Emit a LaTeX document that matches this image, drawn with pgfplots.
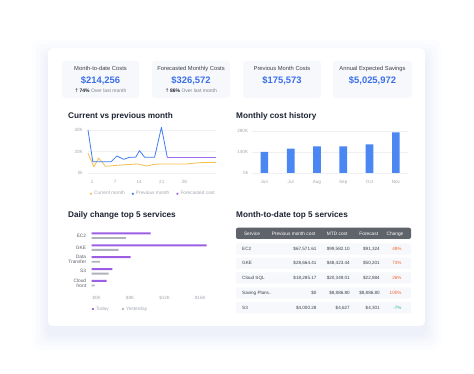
\documentclass[border=0pt]{standalone}
\usepackage{pgfplots}
\pgfplotsset{compat=1.18}
\usepackage{fontspec}
\setmainfont{Liberation Sans}
\newfontfamily\dejavu{DejaVu Sans}
\definecolor{titlecol}{HTML}{1B2232}
\definecolor{kpiblue}{HTML}{3A6FE8}
\definecolor{kpitext}{HTML}{3A3F4A}
\definecolor{subgray}{HTML}{7A808A}
\definecolor{tickgray}{HTML}{A3A8B0}
\definecolor{labgray}{HTML}{5A606B}
\definecolor{gridcol}{HTML}{EEF0F4}
\definecolor{curorange}{HTML}{F6BE4F}
\definecolor{prevblue}{HTML}{3E7BF2}
\definecolor{fcpurple}{HTML}{A46CF5}
\definecolor{barblue}{HTML}{4A87F2}
\definecolor{todaypurple}{HTML}{9C5FE3}
\definecolor{yestgray}{HTML}{AEB3BC}
\definecolor{headgray}{HTML}{5F636A}
\definecolor{rowfill}{HTML}{F6F8FB}
\definecolor{chgorange}{HTML}{F0652F}
\definecolor{chgteal}{HTML}{2FB39B}
\definecolor{cardfill}{HTML}{F7F8FB}
\definecolor{shadowcol}{HTML}{C9D2F0}
\definecolor{tabtext}{HTML}{3A404C}
\newcommand{\fs}[1]{\fontsize{#1}{#1}\selectfont}
\newcommand{\trow}[7]{%
  \node[anchor=base west, font=\fs{4.6}, text=tabtext, inner sep=0pt] at (242,#1-1.65) {#2};
  \node[anchor=base east, font=\fs{4.6}, text=tabtext, inner sep=0pt] at (316.7,#1-1.65) {#3};
  \node[anchor=base east, font=\fs{4.6}, text=tabtext, inner sep=0pt] at (350,#1-1.65) {#4};
  \node[anchor=base east, font=\fs{4.6}, text=tabtext, inner sep=0pt] at (380,#1-1.65) {#5};
  \node[anchor=base east, font=\fs{4.6}, text=#7, inner sep=0pt] at (401.7,#1-1.65) {#6};
}
\pgfplotsset{
  dash/.style={scale only axis, axis line style={draw=none}, tick style={draw=none},
    major tick length=0pt, ymajorgrids, grid style={gridcol, line width=0.5pt},
    scaled ticks=false,
    tick label style={font=\fs{4.6}, text=tickgray, inner sep=0pt},
    xticklabel style={anchor=center, yshift=-9.3pt},
    yticklabel style={anchor=east},
    clip=false,
    legend image code/.code={\fill[##1] (0pt,0pt) circle (0.9pt);},
    legend style={draw=none, fill=none, font=\fs{4.8}, text=tickgray, inner sep=0pt,
      legend columns=-1, /tikz/every even column/.append style={column sep=5pt}},
    /pgf/number format/assume math mode=true,
  }
}
\begin{document}
\begin{tikzpicture}[x=1pt,y=1pt]
\fill[white] (0,0) rectangle (474,374);
% shadow
\foreach \e/\o in {16/0.04,12/0.05,8/0.06,5/0.07,2/0.08}{
  \fill[shadowcol, opacity=\o, rounded corners=8pt] (48-\e,326+\e-8) rectangle (425+\e,48-\e-8);
}
\fill[white, rounded corners=5pt] (48,326) rectangle (425,48);
% KPI cards
\foreach \a/\b in {62/139,152/230,243/321,333/412}{
  \fill[cardfill, rounded corners=3pt] (\a,313) rectangle (\b,276);
}
\node[anchor=base, font=\fs{5.8}, text=kpitext, inner sep=0pt] at (100.5,303.5) {Month-to-date Costs};
\node[anchor=base, font=\fs{5.8}, text=kpitext, inner sep=0pt] at (191,303.5) {Forecasted Monthly Costs};
\node[anchor=base, font=\fs{5.8}, text=kpitext, inner sep=0pt] at (282,303.5) {Previous Month Costs};
\node[anchor=base, font=\fs{5.8}, text=kpitext, inner sep=0pt] at (372.5,303.5) {Annual Expected Savings};
\node[anchor=base, font=\bfseries\fs{9.4}, text=kpiblue, inner sep=0pt] at (100.5,290.4) {\$214,256};
\node[anchor=base, font=\bfseries\fs{9.4}, text=kpiblue, inner sep=0pt] at (191,290.4) {\$326,572};
\node[anchor=base, font=\bfseries\fs{9.4}, text=kpiblue, inner sep=0pt] at (282,290.4) {\$175,573};
\node[anchor=base, font=\bfseries\fs{9.4}, text=kpiblue, inner sep=0pt] at (372.5,290.4) {\$5,025,972};
\node[anchor=base, font=\fs{5}, text=subgray, inner sep=0pt] at (100.5,281) {{\dejavu\color{titlecol}↑}\,{\bfseries\color{titlecol}74\%} Over last month};
\node[anchor=base, font=\fs{5}, text=subgray, inner sep=0pt] at (191,281) {{\dejavu\color{titlecol}↑}\,{\bfseries\color{titlecol}86\%} Over last month};
% titles
\node[anchor=base west, font=\bfseries\fs{8.2}, text=titlecol, inner sep=0pt] at (68,255.7) {Current vs previous month};
\node[anchor=base west, font=\bfseries\fs{8.2}, text=titlecol, inner sep=0pt] at (236,255.5) {Monthly cost history};
\node[anchor=base west, font=\bfseries\fs{8.2}, text=titlecol, inner sep=0pt] at (68,156.7) {Daily change top 5 services};
\node[anchor=base west, font=\bfseries\fs{8.2}, text=titlecol, inner sep=0pt] at (236,156.5) {Month-to-date top 5 services};

% Chart 1
\begin{axis}[dash, at={(88pt,201pt)}, anchor=south west, width=128pt, height=47.3pt,
  xmin=0, xmax=37.3, ymin=0, ymax=44000,
  ytick={0,20000,40000}, yticklabels={0k,20K,40K},
  yticklabel style={xshift=-5pt},
  xtick={1.2,7.9,14.9,21.5,28.1}, xticklabels={1,7,14,21,28},
  legend style={at={(0.51,-0.44)}, anchor=center}]
\addplot[color=curorange, line width=0.8pt, line join=round, forget plot] coordinates {
 (0,18500) (1.7,5900) (3.1,13900) (5.1,6200) (7.2,6800) (11.1,7750) (14.5,8400)
 (17,6500) (18.9,7750) (20.9,8400) (28.7,8400) (32.6,9600) (37.3,9900)};
\addplot[color=prevblue, line width=0.8pt, line join=round, forget plot] coordinates {
 (0,40000) (1.4,10500) (6.75,10500) (8.4,15800) (10.4,12700) (12.1,14600) (13.9,14600)
 (15,20800) (16.5,14600) (19.4,14600) (21.4,42500) (23.1,14600)};
\addplot[color=fcpurple, line width=0.9pt, forget plot] coordinates {(23.1,14600) (37.3,14600)};
\addlegendimage{color=curorange}\addlegendentry{Current month}
\addlegendimage{color=prevblue}\addlegendentry{Previous month}
\addlegendimage{color=fcpurple}\addlegendentry{Forecasted cost}
\end{axis}

% Chart 2
\begin{axis}[dash, at={(252pt,201pt)}, anchor=south west, width=155.7pt, height=42pt,
  xmin=-0.47, xmax=5.45, ymin=0, ymax=280000,
  ytick={0,140000,280000}, yticklabels={0k,140K,280K},
  yticklabel style={xshift=-3.7pt},
  xtick={0,1,2,3,4,5}, xticklabels={Jun,Jul,Aug,Sep,Oct,Nov}]
\addplot[ybar, bar width=7.7pt, fill=barblue, draw=none] coordinates {
 (0,140000) (1,162000) (2,177000) (3,177000) (4,190000) (5,271000)};
\end{axis}

% Chart 3
\begin{axis}[dash, ymajorgrids=false, at={(91.7pt,84.9pt)}, anchor=south west, width=118.5pt, height=59.3pt,
  xmin=0, xmax=17, ymin=-0.5, ymax=4.5,
  ytick={0,1,2,3,4}, yticklabels={{Cloud\\front},S3,{Data\\Transfer},GKE,EC2},
  yticklabel style={align=right, font=\fontsize{4.8}{5.6}\selectfont, text=labgray, xshift=-5.4pt},
  xtick={0.72,5.5,10.47,15.58}, xticklabels={\$0K,\$8K,\$12K,\$16K},
  legend style={at={(0.243,-0.336)}, anchor=center, /tikz/every even column/.append style={column sep=11pt}}]
\addplot[xbar, bar width=2pt, bar shift=0pt, fill=todaypurple, draw=none, forget plot] coordinates {
 (8.46,4.194) (16.5,3.194) (5.6,2.194) (2.96,1.194) (2.15,0.194)};
\addplot[xbar, bar width=1.8pt, bar shift=0pt, fill=yestgray, draw=none, forget plot] coordinates {
 (4.9,3.806) (3.87,2.806) (1.19,1.806) (2.43,0.806) (0.43,-0.194)};
\addlegendimage{color=todaypurple}\addlegendentry{Today}
\addlegendimage{color=yestgray}\addlegendentry{Yesterday}
\end{axis}

% Table
\fill[headgray, rounded corners=2pt] (236,146.3) rectangle (411,135);
\node[anchor=base, font=\fs{4.8}, text=white, inner sep=0pt] at (252,138.9) {Service};
\node[anchor=base, font=\fs{4.8}, text=white, inner sep=0pt] at (293.5,138.9) {Previous month cost};
\node[anchor=base, font=\fs{4.8}, text=white, inner sep=0pt] at (337.2,138.9) {MTD cost};
\node[anchor=base, font=\fs{4.8}, text=white, inner sep=0pt] at (368.8,138.9) {Forecast};
\node[anchor=base, font=\fs{4.8}, text=white, inner sep=0pt] at (395,138.9) {Change};
\foreach \yy in {125,110.7,96,81,66.3}{
  \fill[rowfill, rounded corners=1pt] (236,\yy-5.6) rectangle (411,\yy+5.6);
}
\trow{125}{EC2}{\$67,571.61}{\$99,582.10}{\$91,324}{48\%}{chgorange}
\trow{110.7}{GKE}{\$28,664.41}{\$48,423.44}{\$50,201}{73\%}{chgorange}
\trow{96}{Cloud SQL}{\$18,285.17}{\$20,349.01}{\$22,884}{26\%}{chgorange}
\trow{81}{Saving Plans..}{\$0}{\$8,886.80}{\$8,886.80}{100\%}{chgorange}
\trow{66.3}{S3}{\$4,000.28}{\$4,627}{\$4,301}{-7\%}{chgteal}
\end{tikzpicture}
\end{document}
